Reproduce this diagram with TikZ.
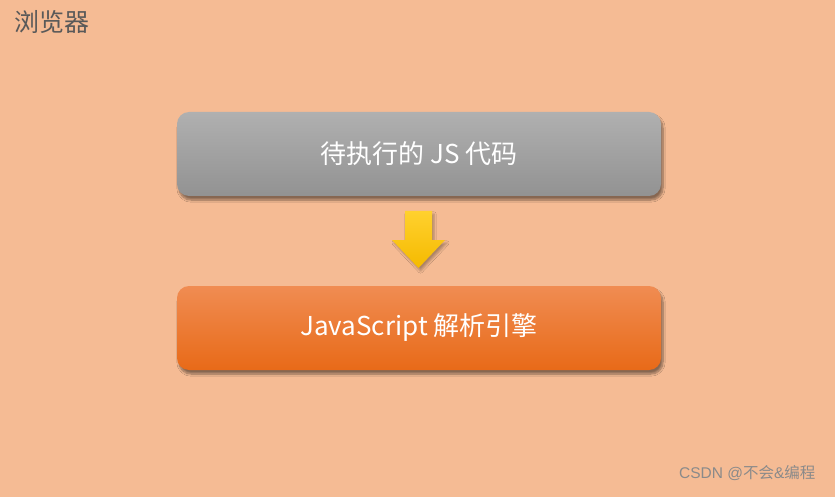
\documentclass[tikz,border=0pt]{standalone}
\usepackage{fontspec}
\setmainfont{Noto Sans CJK SC}
\newfontfamily\cjk{Noto Sans CJK SC}
\newfontfamily\latinsans{Liberation Sans}
\usetikzlibrary{shadows.blur}
\definecolor{bgc}{HTML}{F5BB94}
\definecolor{titlec}{HTML}{595959}
\definecolor{graytop}{HTML}{B0B0B0}
\definecolor{graybot}{HTML}{929292}
\definecolor{ortop}{HTML}{F08C52}
\definecolor{orbot}{HTML}{E86A18}
\definecolor{arrtop}{HTML}{FFD12E}
\definecolor{arrbot}{HTML}{F5BA00}
\definecolor{wmc}{HTML}{8A8A8A}
\tikzset{
  panel/.style={rounded corners=12pt, minimum width=484pt, minimum height=84pt,
    text=white, font=\cjk\fontsize{26}{30}\selectfont,
    blur shadow={shadow xshift=2pt, shadow yshift=-4pt, shadow blur steps=8, shadow opacity=45}},
  graypanel/.style={panel, top color=graytop, bottom color=graybot},
  orangepanel/.style={panel, top color=ortop, bottom color=orbot},
  blockarrow/.style={top color=arrtop, bottom color=arrbot,
    blur shadow={shadow xshift=2pt, shadow yshift=-3pt, shadow opacity=30}},
}
\begin{document}
\begin{tikzpicture}[x=1pt,y=-1pt]
\fill[bgc] (0,0) rectangle (835,497);
\useasboundingbox (0,0) rectangle (835,497);
\node[anchor=west, text=titlec, font=\cjk\fontsize{25}{28}\selectfont] (title) at (11,22) {浏览器};
\node[graypanel] (code) at (419,154) {待执行的 JS 代码};
\node[orangepanel] (engine) at (419,328) {JavaScript 解析引擎};
\path[blockarrow] (405,211) -- (432,211) -- (432,240) -- (445,240) -- (418.5,268)
  -- (392,240) -- (405,240) -- cycle;
\node[anchor=east, text=wmc, font=\cjk\fontsize{15.5}{18}\selectfont] (wm) at (819,473)
  {{\latinsans CSDN @}不会{\latinsans\&}编程};
\end{tikzpicture}
\end{document}
